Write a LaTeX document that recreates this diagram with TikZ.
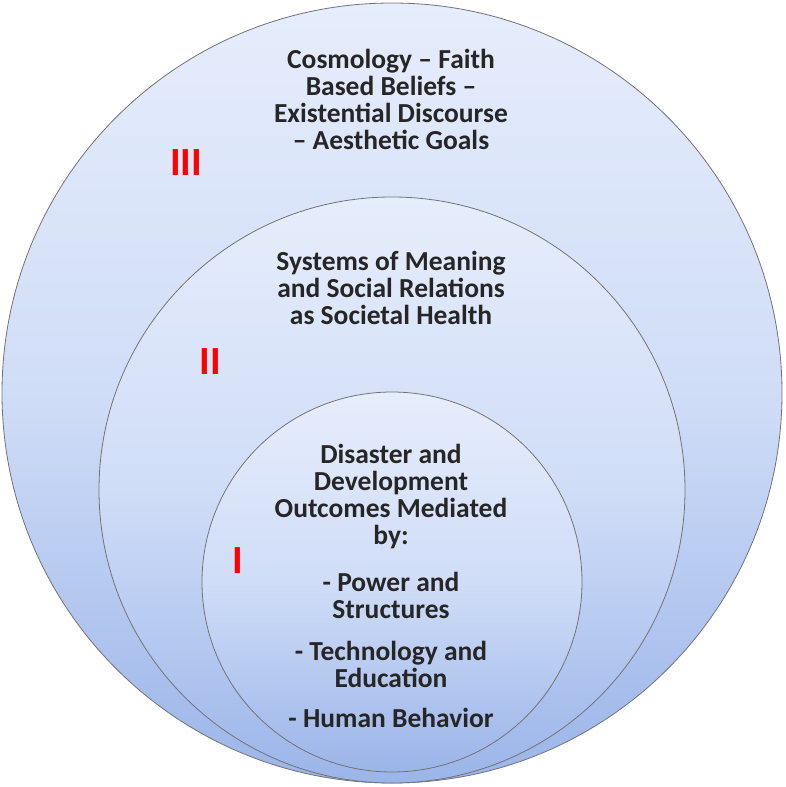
\documentclass[tikz,border=0pt]{standalone}
\usepackage{fontspec}
\setmainfont{Carlito}
\begin{document}
\begin{tikzpicture}[x=1pt,y=-1pt,
  ring/.style={draw=black!55,line width=0.8pt,top color={rgb,255:red,230;green,237;blue,252},bottom color={rgb,255:red,155;green,181;blue,233},middle color={rgb,255:red,208;green,221;blue,247}},
  lbl/.style={align=center,font=\bfseries\fontsize{27.5}{27}\selectfont,text=black!85},
  num/.style={font=\bfseries\fontsize{40}{40}\selectfont,text=red}]
\useasboundingbox (0,0) rectangle (785,787);
\path[ring] (392,393) circle (390) coordinate (c3);
\path[ring] (392,490) circle (293) coordinate (c2);
\path[ring] (392,582) circle (190) coordinate (c1);
\node[lbl] (t3) at (391,99) {Cosmology – Faith\\Based Beliefs –\\Existential Discourse\\– Aesthetic Goals};
\node[lbl] (t2) at (391,288) {Systems of Meaning\\and Social Relations\\as Societal Health};
\node[lbl] (t1) at (391,497) {Disaster and\\Development\\Outcomes Mediated\\by:};
\node[lbl] (b1) at (391,595) {- Power and\\Structures};
\node[lbl] (b2) at (391,664) {- Technology and\\Education};
\node[lbl] (b3) at (391,718) {- Human Behavior};
\node[num] (n3) at (186,163) {III};
\node[num] (n2) at (210,362) {II};
\node[num] (n1) at (238,561) {I};
\end{tikzpicture}
\end{document}
